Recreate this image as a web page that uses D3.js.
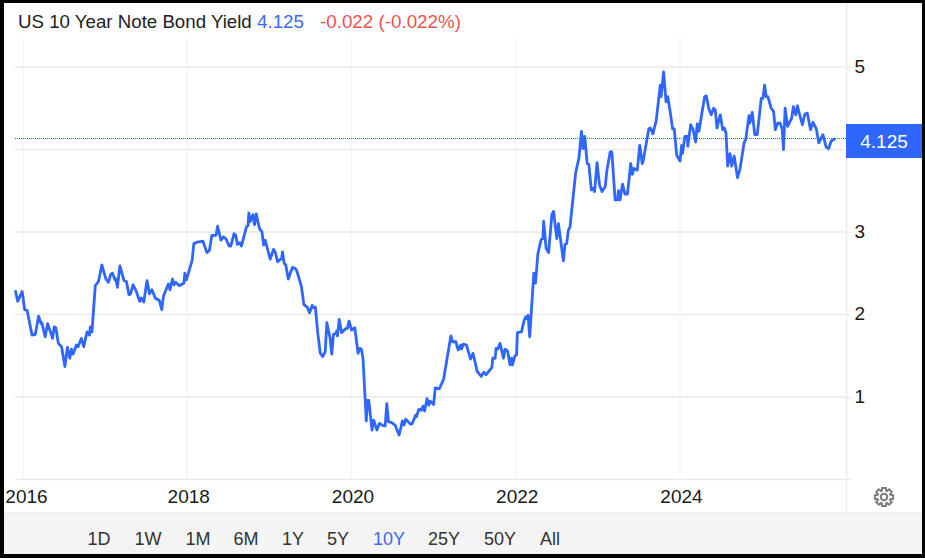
<!DOCTYPE html>
<html><head><meta charset="utf-8">
<script src="https://cdn.jsdelivr.net/npm/d3@7"></script>
<style>html,body{margin:0;padding:0;background:#000}svg{display:block}text{font-family:"Liberation Sans",Arial,sans-serif}</style>
</head><body><div id="chart"></div>
<script>
const years=[2015.91,2015.935,2015.99,2016.02,2016.05,2016.11,2016.15,2016.19,2016.22,2016.23,2016.27,2016.30,2016.36,2016.38,2016.40,2016.43,2016.47,2016.51,2016.54,2016.57,2016.59,2016.61,2016.65,2016.67,2016.71,2016.74,2016.78,2016.81,2016.82,2016.84,2016.88,2016.92,2016.96,2017.01,2017.04,2017.07,2017.09,2017.12,2017.13,2017.15,2017.18,2017.23,2017.26,2017.29,2017.31,2017.34,2017.38,2017.42,2017.44,2017.47,2017.51,2017.54,2017.57,2017.61,2017.66,2017.69,2017.71,2017.77,2017.79,2017.82,2017.84,2017.86,2017.90,2017.96,2017.97,2017.99,
2018.06,2018.08,2018.13,2018.15,2018.19,2018.24,2018.27,2018.30,2018.35,2018.37,2018.41,2018.44,2018.47,2018.51,2018.53,2018.57,2018.59,2018.61,2018.64,2018.66,2018.72,2018.74,2018.75,2018.77,2018.80,2018.82,2018.84,2018.88,2018.91,2018.93,2018.95,2019.01,2019.05,2019.07,2019.10,2019.15,2019.16,2019.18,2019.20,2019.23,2019.28,2019.31,2019.33,2019.39,2019.42,2019.46,2019.49,2019.52,2019.54,2019.56,2019.59,2019.62,2019.65,2019.68,2019.70,2019.74,2019.76,2019.78,2019.81,2019.82,2019.83,2019.85,2019.88,2019.93,2019.95,2019.97,
2020.00,2020.04,2020.08,2020.10,2020.12,2020.14,2020.18,2020.195,2020.21,2020.25,2020.27,2020.31,2020.34,2020.39,2020.41,2020.43,2020.45,2020.49,2020.53,2020.58,2020.62,2020.64,2020.66,2020.72,2020.74,2020.78,2020.79,2020.82,2020.85,2020.87,2020.89,2020.92,2020.94,2020.96,2021.00,2021.02,2021.07,2021.12,2021.21,2021.23,2021.27,2021.30,2021.33,2021.34,2021.36,2021.40,2021.45,2021.48,2021.53,2021.58,2021.61,2021.64,2021.71,2021.72,2021.75,2021.76,2021.78,2021.81,2021.85,2021.87,2021.90,2021.93,2021.95,2021.96,2021.99,
2022.01,2022.02,2022.07,2022.10,2022.12,2022.13,2022.15,2022.17,2022.22,2022.24,2022.27,2022.31,2022.33,2022.34,2022.37,2022.40,2022.44,2022.46,2022.50,2022.52,2022.58,2022.60,2022.62,2022.64,2022.66,2022.73,2022.77,2022.80,2022.82,2022.84,2022.87,2022.89,2022.92,2022.94,2022.96,2022.99,2023.02,2023.05,2023.09,2023.11,2023.15,2023.17,2023.21,2023.24,2023.25,2023.27,2023.30,2023.33,2023.36,2023.40,2023.42,2023.44,2023.48,2023.51,2023.54,2023.55,2023.62,2023.64,2023.67,2023.71,2023.76,2023.77,2023.80,2023.83,2023.85,2023.88,2023.91,2023.93,2023.96,
2024.00,2024.02,2024.03,2024.06,2024.09,2024.095,2024.13,2024.16,2024.19,2024.21,2024.23,2024.27,2024.30,2024.32,2024.35,2024.38,2024.41,2024.43,2024.45,2024.49,2024.52,2024.54,2024.56,2024.58,2024.61,2024.63,2024.66,2024.70,2024.73,2024.76,2024.78,2024.80,2024.84,2024.85,2024.88,2024.91,2024.94,2024.99,2025.01,2025.03,2025.05,2025.07,2025.11,2025.14,2025.16,2025.19,2025.22,2025.245,2025.26,2025.28,2025.31,2025.36,2025.38,2025.41,2025.43,2025.46,2025.49,2025.52,2025.55,2025.59,2025.62,2025.66,2025.69,2025.74,2025.78,2025.81,2025.84,2025.88];
const yields=[2.28,2.16,2.28,2.06,2.05,1.75,1.76,1.98,1.89,1.90,1.73,1.89,1.71,1.85,1.84,1.65,1.61,1.37,1.60,1.47,1.58,1.52,1.63,1.61,1.71,1.61,1.79,1.75,1.85,1.79,2.35,2.40,2.60,2.43,2.39,2.49,2.50,2.42,2.43,2.33,2.59,2.41,2.40,2.24,2.25,2.36,2.28,2.16,2.20,2.15,2.41,2.25,2.30,2.20,2.17,2.06,2.22,2.37,2.30,2.43,2.36,2.39,2.35,2.38,2.50,2.42,
2.66,2.86,2.88,2.88,2.89,2.75,2.78,2.96,2.96,3.07,2.90,2.94,2.92,2.83,2.83,2.98,2.96,2.85,2.87,2.83,3.06,3.08,3.23,3.13,3.21,3.09,3.22,3.04,3.00,2.84,2.90,2.67,2.79,2.76,2.64,2.68,2.76,2.62,2.60,2.43,2.57,2.56,2.54,2.34,2.12,2.09,2.02,2.11,2.08,2.09,1.77,1.53,1.49,1.55,1.90,1.71,1.52,1.76,1.77,1.80,1.74,1.94,1.78,1.83,1.83,1.92,
1.81,1.84,1.53,1.59,1.58,1.47,0.71,0.96,0.96,0.60,0.72,0.60,0.68,0.65,0.65,0.92,0.70,0.69,0.66,0.54,0.71,0.66,0.73,0.67,0.68,0.78,0.76,0.85,0.84,0.89,0.83,0.98,0.90,0.95,0.91,1.11,1.10,1.21,1.74,1.67,1.67,1.57,1.63,1.58,1.64,1.63,1.46,1.53,1.31,1.25,1.30,1.27,1.36,1.47,1.47,1.59,1.58,1.65,1.47,1.58,1.56,1.39,1.47,1.39,1.50,
1.51,1.78,1.79,1.92,1.97,1.95,1.99,1.73,2.50,2.38,2.74,2.91,2.92,3.13,2.80,2.75,3.21,3.25,2.92,3.10,2.65,2.85,2.86,3.02,3.06,3.72,3.90,4.22,4.01,4.16,3.83,3.82,3.51,3.53,3.49,3.84,3.57,3.49,3.55,3.75,3.97,3.97,3.39,3.39,3.50,3.39,3.58,3.46,3.46,3.83,3.70,3.77,3.75,4.05,3.83,3.85,4.25,4.26,4.19,4.35,4.78,4.64,4.94,4.58,4.64,4.46,4.25,4.25,3.93,
3.86,4.05,3.95,4.16,4.16,4.04,4.30,4.24,4.09,4.31,4.22,4.46,4.64,4.65,4.50,4.42,4.50,4.48,4.26,4.42,4.24,4.26,4.20,3.80,3.95,3.80,3.92,3.66,3.76,3.95,4.08,4.12,4.41,4.32,4.45,4.18,4.18,4.62,4.62,4.78,4.64,4.64,4.50,4.46,4.24,4.32,4.32,4.24,4.00,4.50,4.28,4.38,4.52,4.42,4.53,4.41,4.30,4.43,4.44,4.24,4.33,4.25,4.08,4.18,4.03,4.01,4.10,4.125];
const xTicks=[2016,2018,2020,2022,2024];
const yTicks=[1,2,3,4,5];
const yLabels=[1,2,3,5];
const ranges=["1D","1W","1M","6M","1Y","5Y","10Y","25Y","50Y","All"];
const activeRange="10Y";
const rangeCentres=[99,148,198,246,293,338,389,444,500,550];
const titleText="US 10 Year Note Bond Yield";
const lastValue=4.125;
const changeText="-0.022 (-0.022%)";

const W=925,H=558;
const svg=d3.select("#chart").append("svg").attr("width",W).attr("height",H);
svg.append("rect").attr("x",4).attr("y",3).attr("width",918).attr("height",551).attr("fill","#fff");
svg.append("rect").attr("x",4).attr("y",513).attr("width",918).attr("height",41).attr("fill","#f4f4f4");
svg.append("line").attr("x1",4).attr("x2",922).attr("y1",513).attr("y2",513).attr("stroke","#e6e6e6");

const x=d3.scaleLinear().domain([2016,2024]).range([23,680]);
const y=d3.scaleLinear().domain([0,5]).range([479.5,67]);

// vertical grid
svg.append("g").selectAll("line").data(xTicks).join("line")
  .attr("x1",d=>x(d)).attr("x2",d=>x(d)).attr("y1",38).attr("y2",479)
  .attr("stroke","#f1f4f9").attr("stroke-width",1.2);
// horizontal grid
svg.append("g").selectAll("line").data(yTicks).join("line")
  .attr("x1",15).attr("x2",845).attr("y1",d=>y(d)).attr("y2",d=>y(d))
  .attr("stroke","#e9e9ec").attr("stroke-width",1.4);

// right axis line + ticks
const yAxis=d3.axisRight(y).tickValues(yLabels).tickSize(5).tickPadding(3).tickFormat(d3.format("d"));
const gy=svg.append("g").attr("transform","translate(846.5,0)").call(yAxis);
gy.select(".domain").remove();
gy.selectAll("line").attr("stroke","#efefef").attr("stroke-width",1.2);
gy.selectAll("text").attr("font-size",19).attr("fill","#1a1a1a").attr("font-family","Liberation Sans").attr("y",-1);
svg.append("line").attr("x1",846.5).attr("x2",846.5).attr("y1",3).attr("y2",478).attr("stroke","#e9e9e9").attr("stroke-width",1.4);
svg.append("line").attr("x1",846.5).attr("x2",846.5).attr("y1",481).attr("y2",513).attr("stroke","#e9e9e9").attr("stroke-width",1.2);

// bottom axis
const xAxis=d3.axisBottom(x).tickValues(xTicks).tickSize(0).tickPadding(10).tickFormat(d3.format("d"));
const gx=svg.append("g").attr("transform","translate(0,479.5)").call(xAxis);
gx.select(".domain").remove();
gx.selectAll("text").attr("font-size",19).attr("fill","#1a1a1a").attr("font-family","Liberation Sans").attr("x",1);
gx.selectAll(".tick").filter(d=>d===2016).select("text").attr("x",3);
svg.append("line").attr("x1",15).attr("x2",851).attr("y1",479.5).attr("y2",479.5).attr("stroke","#e9e9ec").attr("stroke-width",1.4);

// last value line
svg.append("line").attr("x1",15).attr("x2",846).attr("y1",138.5).attr("y2",138.5)
  .attr("stroke","#2e66ff").attr("stroke-width",1).attr("stroke-dasharray","1 1");

// series
const pts=d3.zip(years,yields);
svg.append("path").datum(pts).attr("fill","none").attr("stroke","#2e66ff").attr("stroke-width",2.8)
  .attr("stroke-linejoin","round").attr("stroke-linecap","round")
  .attr("d",d3.line().x(d=>x(d[0])).y(d=>y(d[1])));

// last value box
svg.append("rect").attr("x",846).attr("y",124).attr("width",76).attr("height",34).attr("fill","#2e66ff");
svg.append("text").attr("x",884).attr("y",148).attr("text-anchor","middle").attr("font-size",19).attr("fill","#fff").text(d3.format(".3f")(lastValue));

// title
svg.append("text").attr("x",18).attr("y",28).attr("font-size",18.7).attr("fill","#222").text(titleText);
svg.append("text").attr("x",257).attr("y",28).attr("font-size",18.8).attr("fill","#3d68f5").text(d3.format(".3f")(lastValue));
svg.append("text").attr("x",320).attr("y",28).attr("font-size",18.8).attr("fill","#ef5350").text(changeText);

// ranges
svg.append("g").selectAll("text").data(ranges).join("text")
  .attr("x",(d,i)=>rangeCentres[i]).attr("y",544.5).attr("text-anchor","middle").attr("font-size",18)
  .attr("fill",d=>d===activeRange?"#3d68f5":"#333").text(d=>d);

// gear
const gearAngles=d3.range(8);
const cx=884,cy=497;
const gearLine=[];
gearAngles.forEach(i=>{
  const a=i*Math.PI/4;
  [[-0.33,6.7],[-0.2,9.3],[0.2,9.3],[0.33,6.7]].forEach(([da,r])=>gearLine.push([cx+r*Math.cos(a+da),cy+r*Math.sin(a+da)]));
});
svg.append("path").attr("d",d3.line()(gearLine)+"Z").attr("fill","none").attr("stroke","#7d7d7d").attr("stroke-width",2);
svg.append("circle").attr("cx",cx).attr("cy",cy).attr("r",3.2).attr("fill","none").attr("stroke","#7d7d7d").attr("stroke-width",2);
</script></body></html>
